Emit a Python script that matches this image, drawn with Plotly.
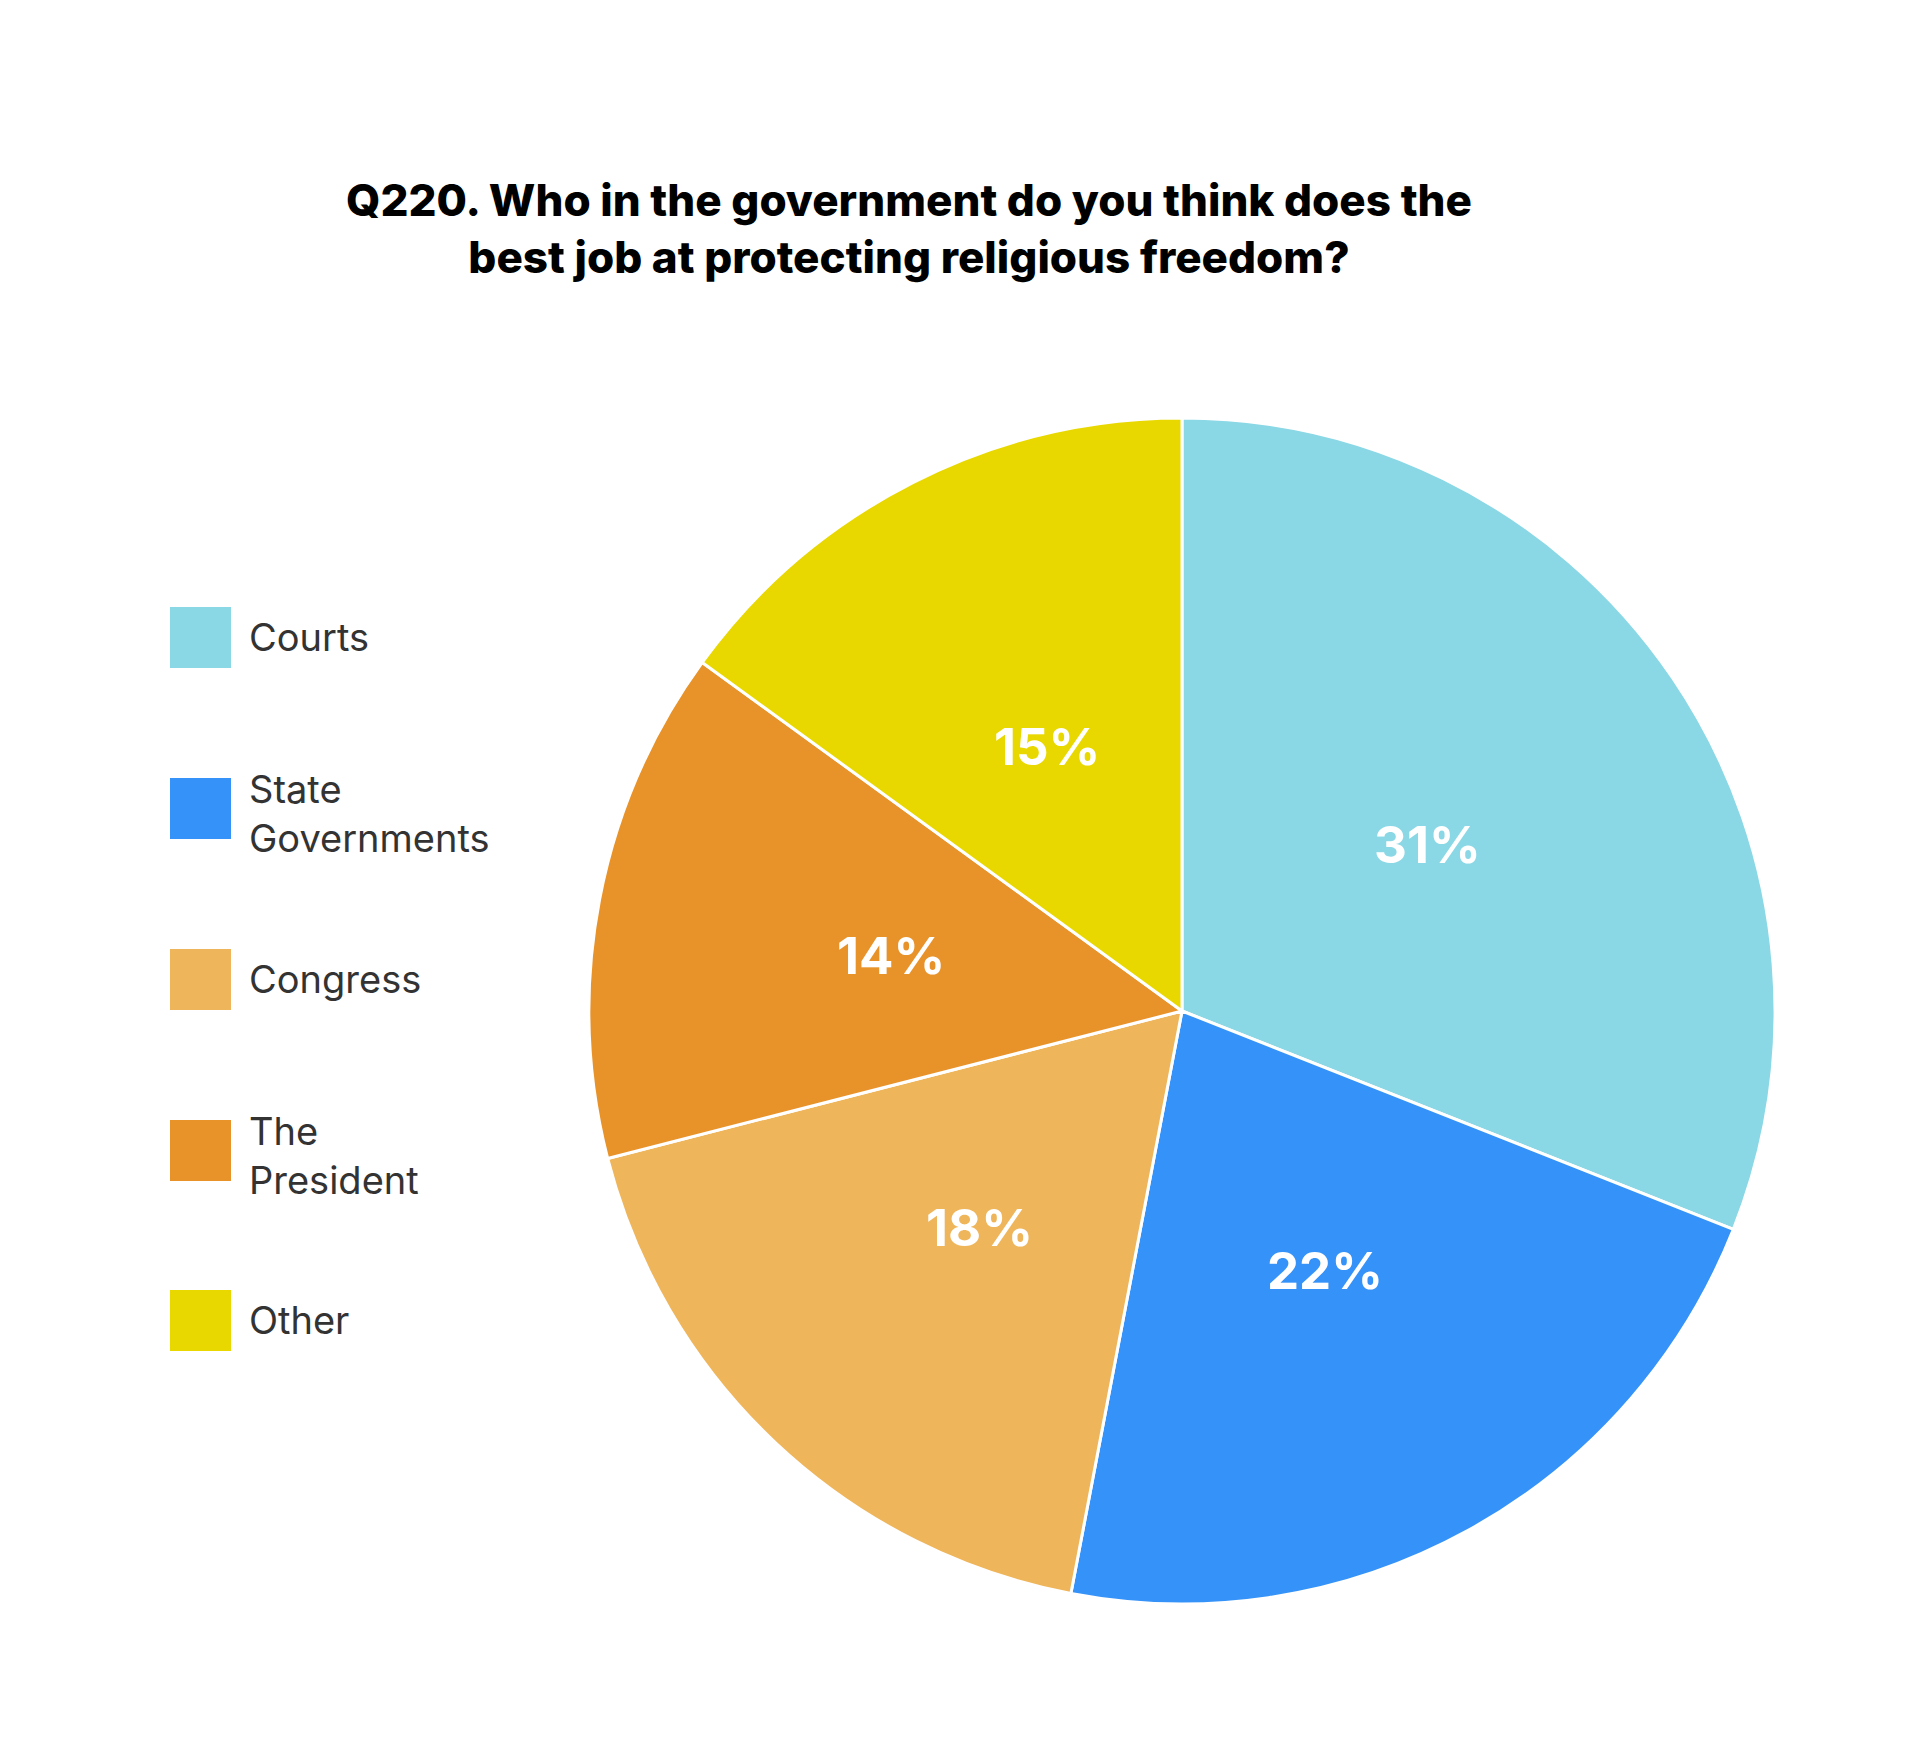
import math
import plotly.graph_objects as go

categories = ["Courts", "State Governments", "Congress", "The President", "Other"]
legend_labels = ["Courts", "State<br>Governments", "Congress", "The<br>President", "Other"]
values = [31, 22, 18, 14, 15]
colors = ["#8AD7E5", "#3592F8", "#EFB55A", "#E8922A", "#E8D800"]
title_text = "Q220. Who in the government do you think does the<br>best job at protecting religious freedom?"

W, H = 1920, 1754
# pie geometry (pixels)
cx, cy, R = 1182, 1011, 593

fig = go.Figure()
fig.add_trace(go.Pie(
    labels=categories,
    values=values,
    sort=False,
    direction="clockwise",
    rotation=0,
    marker=dict(colors=colors, line=dict(color="white", width=3)),
    textinfo="none",
    domain=dict(x=[(cx - R) / W, (cx + R) / W], y=[(H - cy - R) / H, (H - cy + R) / H]),
    showlegend=False,
    hoverinfo="label+percent",
))

shapes = []
annotations = []

# percentage labels at half radius along each slice's mid-angle
total = sum(values)
cum = 0
for v in values:
    mid = (cum + v / 2) / total * 2 * math.pi
    cum += v
    px = cx + 0.5 * R * math.sin(mid)
    py = cy - 0.5 * R * math.cos(mid)
    annotations.append(dict(xref="paper", yref="paper", x=px / W, y=(H - py) / H,
                            xanchor="center", yanchor="middle", showarrow=False,
                            text=f"{v}%",
                            font=dict(family="Inter", size=51, color="white", weight="bold")))

sq_tops = [607, 778, 949, 1120, 1290]
sq = 61
for i, (lab, col) in enumerate(zip(legend_labels, colors)):
    top = sq_tops[i]
    shapes.append(dict(type="rect", xref="paper", yref="paper",
                       x0=170 / W, x1=(170 + sq) / W,
                       y0=(H - top - sq) / H, y1=(H - top) / H,
                       fillcolor=col, line=dict(width=0)))
    shift = 5 if "<br>" in lab else -1
    annotations.append(dict(xref="paper", yref="paper", x=247 / W, y=(H - top - sq / 2 - shift) / H,
                            xanchor="left", yanchor="middle", align="left", showarrow=False,
                            text=lab, font=dict(family="Inter", size=38, color="#333333")))

annotations.append(dict(xref="paper", yref="paper", x=909 / W, y=(H - 229) / H,
                        xanchor="center", yanchor="middle", align="center", showarrow=False,
                        text=title_text,
                        font=dict(family="Inter", size=44, color="#000000", weight=800)))

fig.update_layout(
    width=W, height=H,
    margin=dict(l=0, r=0, t=0, b=0),
    paper_bgcolor="white", plot_bgcolor="white",
    shapes=shapes, annotations=annotations,
)

fig.write_html("out.html")
